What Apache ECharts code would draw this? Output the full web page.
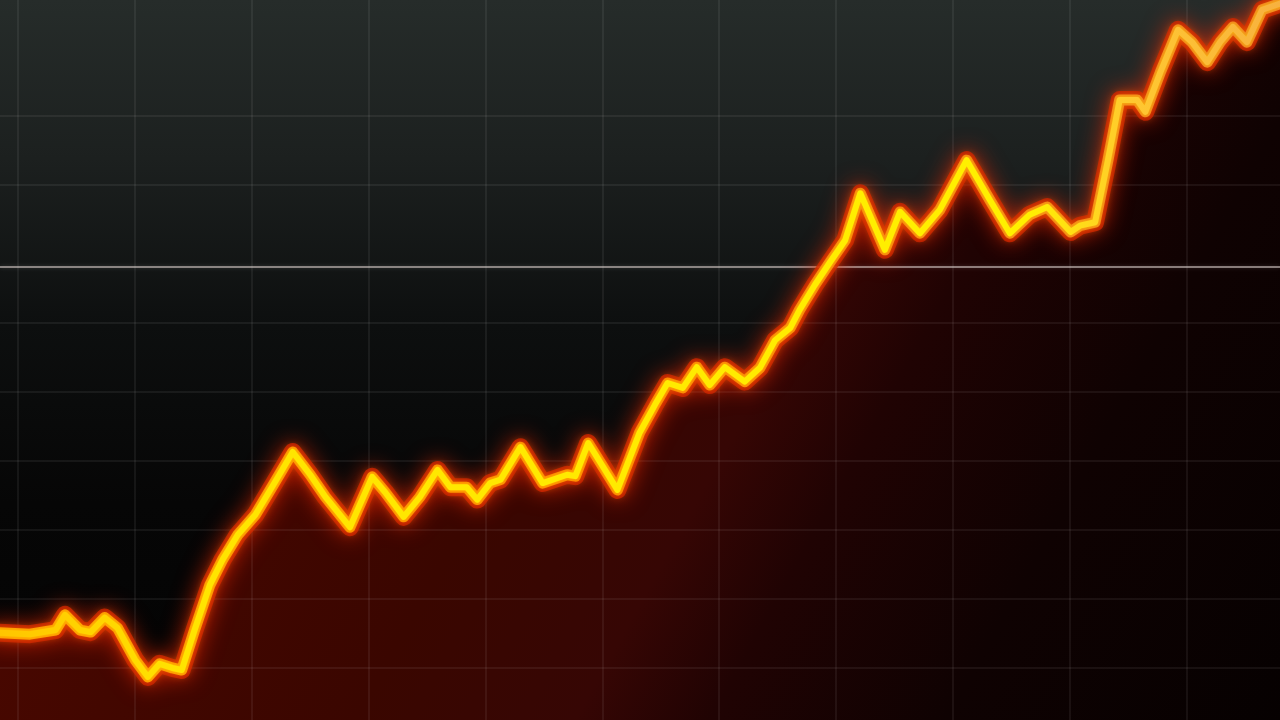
<!DOCTYPE html>
<html>
<head>
<meta charset="utf-8">
<style>
  html, body { margin: 0; padding: 0; background: #000; }
  #chart { width: 1280px; height: 720px; }
</style>
<script src="https://cdn.jsdelivr.net/npm/echarts@6/dist/echarts.min.js"></script>
</head>
<body>
<div id="chart"></div>
<script>
// Time positions (grid units: 10 per vertical grid cell)
const times = [8.0, 8.4, 11.0, 13.2, 14.0, 15.3, 16.2, 17.4, 18.5, 20.0, 21.1, 22.1, 23.2, 24.0,
  25.1, 26.4, 27.5, 28.8, 30.3, 32.0, 33.5, 35.0, 36.3, 38.4, 40.3, 41.4, 43.0, 44.4, 45.9,
  47.0, 48.4, 49.3, 50.4, 51.3, 53.0, 54.9, 57.0, 57.7, 58.8, 61.3, 63.2, 64.5, 65.6, 66.9,
  68.1, 69.2, 70.5, 72.2, 73.5, 74.8, 76.1, 76.9, 78.2, 79.5, 80.8, 82.1, 84.2, 85.5, 87.2,
  88.9, 91.2, 93.2, 94.9, 96.6, 98.1, 100.1, 100.9, 102.2, 103.3, 104.3, 105.8, 106.5, 107.8,
  109.3, 110.5, 111.8, 112.9, 114.0, 115.2, 116.5, 118.4];
// Series values
const values = [15.1, 15.1, 14.9, 15.5, 17.7, 15.5, 15.2, 17.3, 15.8, 11.2, 8.7, 10.6, 10.0, 9.7,
  15.5, 22.0, 25.7, 29.3, 32.2, 37.0, 41.3, 38.0, 34.8, 30.4, 37.7, 35.5, 31.9, 34.8, 38.7,
  36.2, 36.2, 34.4, 36.8, 37.3, 42.0, 36.8, 38.0, 37.8, 42.6, 35.8, 44.1, 48.1, 51.3, 50.6,
  53.6, 51.0, 53.6, 51.5, 53.5, 57.5, 59.3, 61.9, 65.5, 68.8, 72.0, 78.8, 70.6, 76.1, 73.0,
  76.4, 83.6, 77.8, 73.0, 75.7, 76.8, 73.2, 74.1, 74.6, 83.6, 92.3, 92.3, 90.6, 96.4,
  102.5, 100.7, 97.8, 100.7, 102.9, 100.7, 105.4, 106.5];
// Highlighted reference level
const referenceLevel = [68.1];
// Visible window of the chart (data units)
const xRange = [8.44, 118.03];
const yRange = [2.46, 106.81];

const points = times.map((t, i) => [t, values[i]]);

const chart = echarts.init(document.getElementById('chart'), null, { renderer: 'canvas' });

const hidden = { axisLine: { show: false }, axisTick: { show: false }, axisLabel: { show: false } };
const lineCol = 'rgba(255,255,255,0.085)';
const gridLineV = { color: lineCol, width: 1.5 };
const hColors = [];
for (let i = 0; i <= 9; i++) hColors.push(i === 6 || i === 9 ? 'rgba(0,0,0,0)' : lineCol);
const gridLineH = { color: hColors, width: 1.5 };

const option = {
  animation: false,
  backgroundColor: {
    type: 'linear', x: 0, y: 0, x2: 0, y2: 1,
    colorStops: [
      { offset: 0, color: '#262c2a' },
      { offset: 0.22, color: '#1c201f' },
      { offset: 0.45, color: '#0d0f0f' },
      { offset: 0.7, color: '#060606' },
      { offset: 1, color: '#030303' }
    ]
  },
  grid: [
    { left: 0, right: 0, top: 0, bottom: 0 },
    { left: 18.2, right: 93.6, top: 0, bottom: 0 },
    { left: 0, right: 0, top: 47, bottom: 52 }
  ],
  xAxis: [
    Object.assign({ type: 'value', gridIndex: 0, min: xRange[0], max: xRange[1], splitLine: { show: false } }, hidden),
    Object.assign({ type: 'value', gridIndex: 1, min: 0, max: 100, interval: 10, z: 3,
      splitLine: { show: true, lineStyle: gridLineV } }, hidden),
    Object.assign({ type: 'value', gridIndex: 2, min: 0, max: 10, splitLine: { show: false } }, hidden)
  ],
  yAxis: [
    Object.assign({ type: 'value', gridIndex: 0, min: yRange[0], max: yRange[1], splitLine: { show: false } }, hidden),
    Object.assign({ type: 'value', gridIndex: 1, min: 0, max: 10, splitLine: { show: false } }, hidden),
    Object.assign({ type: 'value', gridIndex: 2, min: 0, max: 90, interval: 10, z: 3,
      splitLine: { show: true, lineStyle: gridLineH } }, hidden)
  ],
  series: [
    {
      type: 'line', data: points, symbol: 'none', z: 1, silent: true,
      lineStyle: { width: 0 },
      areaStyle: {
        opacity: 1, origin: 'start',
        color: {
          type: 'linear', x: 0, y: 0, x2: 1, y2: 1,
          colorStops: [
            { offset: 0, color: '#540900' },
            { offset: 0.45, color: '#3a0600' },
            { offset: 0.58, color: '#360604' },
            { offset: 0.66, color: '#200303' },
            { offset: 0.8, color: '#0f0202' },
            { offset: 1, color: '#060101' }
          ]
        }
      }
    },
    {
      type: 'line', data: [], z: 4, silent: true,
      markLine: {
        silent: true, symbol: 'none', label: { show: false },
        lineStyle: { color: 'rgba(225,215,212,0.55)', width: 2, type: 'solid', shadowBlur: 4, shadowColor: 'rgba(255,255,255,0.3)' },
        data: referenceLevel.map(v => ({ yAxis: v }))
      }
    },
    {
      type: 'line', data: points, symbol: 'none', z: 5, silent: true,
      lineStyle: { width: 18, color: 'rgba(200,25,0,0.8)', shadowBlur: 22, shadowColor: 'rgba(255,40,0,0.85)', join: 'round', cap: 'round' }
    },
    {
      type: 'line', data: points, symbol: 'none', z: 6, silent: true,
      lineStyle: {
        width: 11, join: 'round', cap: 'round',
        color: {
          type: 'linear', x: 0, y: 0, x2: 1, y2: 0,
          colorStops: [
            { offset: 0, color: '#ffa000' },
            { offset: 0.5, color: '#ff8800' },
            { offset: 1, color: '#f08a20' }
          ]
        },
        shadowBlur: 8, shadowColor: 'rgba(255,110,0,0.8)'
      }
    },
    {
      type: 'line', data: points, symbol: 'none', z: 7, silent: true,
      lineStyle: {
        width: 6, join: 'round', cap: 'round',
        color: {
          type: 'linear', x: 0, y: 0, x2: 1, y2: 0,
          colorStops: [
            { offset: 0, color: '#ffc400' },
            { offset: 0.15, color: '#ffe400' },
            { offset: 0.8, color: '#fff000' },
            { offset: 0.88, color: '#ffc830' },
            { offset: 1, color: '#f7b040' }
          ]
        },
        shadowBlur: 3, shadowColor: 'rgba(255,230,0,0.6)'
      }
    }
  ]
};

chart.setOption(option);
</script>
</body>
</html>
